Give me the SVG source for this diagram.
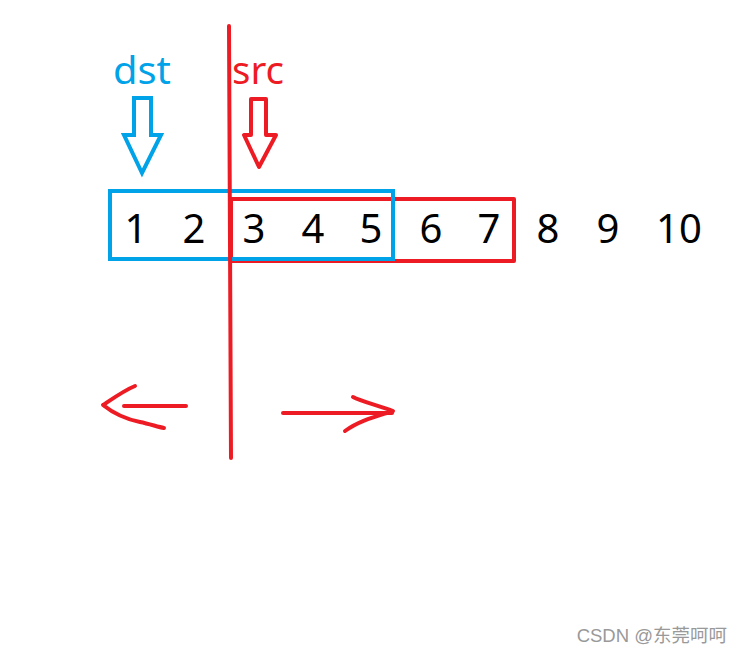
<svg xmlns="http://www.w3.org/2000/svg" width="743" height="654" viewBox="0 0 743 654">
<style>
.num{font-family:"Noto Sans","Open Sans",sans-serif;font-size:40px;fill:#000;text-anchor:middle}
.lbl{font-family:"Noto Sans","Open Sans",sans-serif;font-size:38.5px}
.red{fill:none;stroke:#ED1C24;stroke-width:4;stroke-linecap:round;stroke-linejoin:round}
.blue{fill:none;stroke:#00A2E8;stroke-width:4}
</style>
<rect width="743" height="654" fill="#fff"/>
<g id="src-box"><rect x="231" y="199" width="283" height="62" class="red" stroke-linejoin="miter" stroke-linecap="butt"/></g>
<g id="dst-box"><rect x="110" y="191" width="283" height="68" class="blue"/></g>
<g id="numbers">
<text class="num" x="136" y="243">1</text>
<text class="num" x="194" y="243">2</text>
<text class="num" x="254" y="243">3</text>
<text class="num" x="313" y="243">4</text>
<text class="num" x="371" y="243">5</text>
<text class="num" x="431" y="243">6</text>
<text class="num" x="489" y="243">7</text>
<text class="num" x="548" y="243">8</text>
<text class="num" x="608" y="243">9</text>
<text class="num" x="679" y="243">10</text>
</g>
<g id="dst">
<text class="lbl" x="113" y="84" fill="#00A2E8" textLength="58" lengthAdjust="spacingAndGlyphs">dst</text>
<polygon class="blue" points="134,98 151,98 151,135 161,135 142,173 124,135 134,135"/>
</g>
<g id="src">
<text class="lbl" x="232" y="84" fill="#ED1C24" textLength="52" lengthAdjust="spacingAndGlyphs">src</text>
<polygon class="red" stroke-linejoin="miter" points="251,99 266,99 266,135 276,135 259,167 244,135 251,135"/>
</g>
<g id="connectors">
<path class="red" d="M229,26 L231,458"/>
<path class="red" d="M124,406 L186,406"/>
<path class="red" d="M135,386 C125,390 115,397 103,405 C113,413 125,419 140,422 C150,424 158,427 164,428"/>
<path class="red" d="M283,413 L392,413"/>
<path class="red" d="M353,397 C362,402 378,405 393,411 C378,416 360,420 345,431"/>
</g>
<text x="727" y="642" text-anchor="end" font-family="'Liberation Sans','Noto Sans CJK SC',sans-serif" font-size="18.5" fill="#999">CSDN @东莞呵呵</text>
</svg>
